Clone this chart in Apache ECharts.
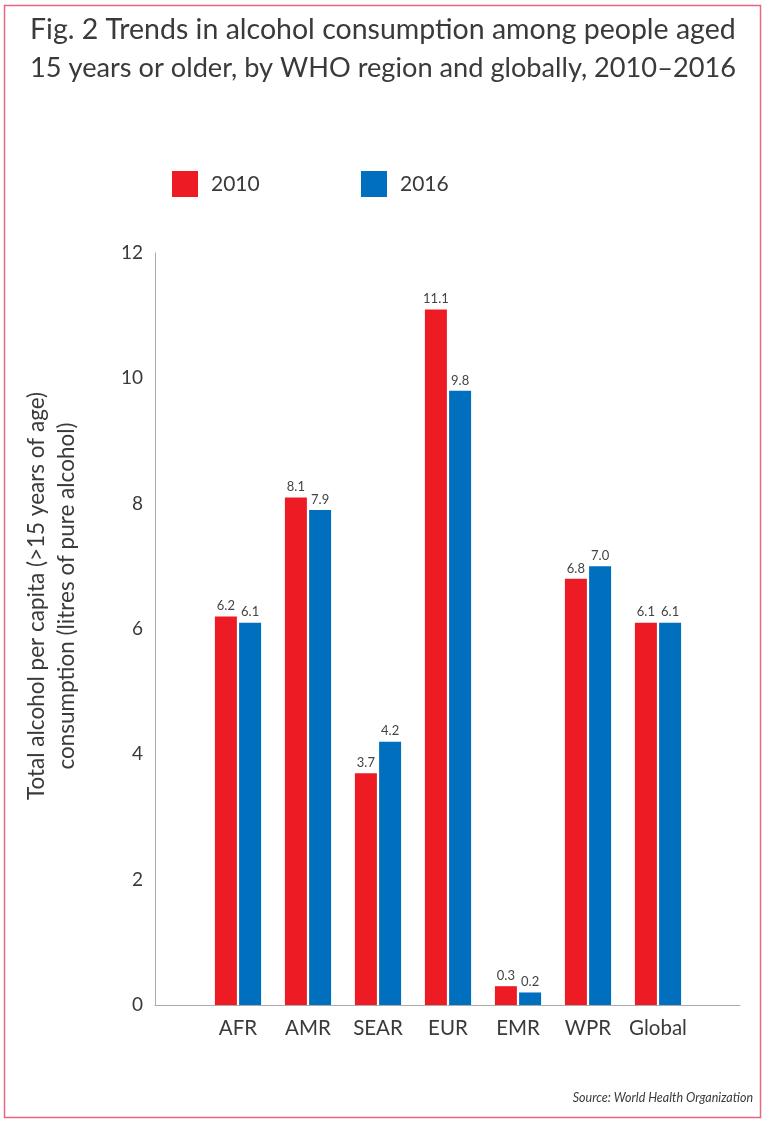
<!DOCTYPE html>
<html>
<head>
<meta charset="utf-8">
<script src="https://cdn.jsdelivr.net/npm/echarts@6/dist/echarts.min.js"></script>
<style>html,body{margin:0;padding:0;background:#fff}#c{width:765px;height:1122px}</style>
</head>
<body>
<div id="c"></div>
<script>
const categories = ['AFR', 'AMR', 'SEAR', 'EUR', 'EMR', 'WPR', 'Global'];
const values2010 = [6.2, 8.1, 3.7, 11.1, 0.3, 6.8, 6.1];
const values2016 = [6.1, 7.9, 4.2, 9.8, 0.2, 7.0, 6.1];
const seriesNames = ['2010', '2016'];
const yMin = 0, yMax = 12, yInterval = 2;

const FONT = 'Lato';
const TXT = '#3a3a3a';
const chart = echarts.init(document.getElementById('c'), null, {renderer: 'canvas'});
const labelCfg = {
  show: true, position: 'top', distance: 4, fontFamily: FONT, fontSize: 13, color: '#444',
  formatter: p => p.value.toFixed(1)
};
chart.setOption({
  animation: false,
  backgroundColor: '#fff',
  title: {
    text: 'Fig. 2 Trends in alcohol consumption among people aged',
    subtext: '15 years or older, by WHO region and globally, 2010–2016',
    left: 25, top: 6, itemGap: 2,
    textStyle: {fontFamily: FONT, fontSize: 28.5, fontWeight: 'normal', color: TXT, lineHeight: 37},
    subtextStyle: {fontFamily: FONT, fontSize: 27.2, fontWeight: 'normal', color: TXT, lineHeight: 36}
  },
  legend: [
    {data: [seriesNames[0]], left: 167, top: 166, itemWidth: 26, itemHeight: 26, itemGap: 0,
     textStyle: {fontFamily: FONT, fontSize: 21, color: TXT, padding: [0, 0, 0, 8]}, icon: 'rect'},
    {data: [seriesNames[1]], left: 356, top: 166, itemWidth: 26, itemHeight: 26, itemGap: 0,
     textStyle: {fontFamily: FONT, fontSize: 21, color: TXT, padding: [0, 0, 0, 8]}, icon: 'rect'}
  ],
  grid: [
    {left: 155, right: 25, top: 253, bottom: 117},
    {left: 203, width: 490, top: 253, bottom: 117}
  ],
  xAxis: [
    {type: 'value', gridIndex: 0, min: 0, max: 1, axisLine: {show: true, onZero: false, lineStyle: {color: '#aaaaaa', width: 1}},
     axisTick: {show: false}, axisLabel: {show: false}, splitLine: {show: false}},
    {type: 'category', gridIndex: 1, data: categories, axisLine: {show: false}, axisTick: {show: false},
     axisLabel: {interval: 0, fontFamily: FONT, fontSize: 20.5, color: TXT, margin: 13}}
  ],
  yAxis: [
    {type: 'value', gridIndex: 0, min: yMin, max: yMax, interval: yInterval,
     axisLine: {show: true, lineStyle: {color: '#aaaaaa', width: 1}}, axisTick: {show: false},
     splitLine: {show: false}, axisLabel: {fontFamily: FONT, fontSize: 19, color: TXT, margin: 12}},
    {type: 'value', gridIndex: 1, min: yMin, max: yMax, interval: yInterval, show: false, splitLine: {show: false}}
  ],
  series: [
    {name: seriesNames[0], type: 'bar', xAxisIndex: 1, yAxisIndex: 1, data: values2010, barWidth: 22, barGap: '10%',
     itemStyle: {color: '#ED1C24'}, label: labelCfg},
    {name: seriesNames[1], type: 'bar', xAxisIndex: 1, yAxisIndex: 1, data: values2016, barWidth: 22, barGap: '10%',
     itemStyle: {color: '#0070BE'}, label: labelCfg}
  ],
  graphic: [
    {type: 'rect', shape: {x: 4.5, y: 5.5, width: 756, height: 1112}, style: {fill: 'none', stroke: '#e9677e', lineWidth: 1.5}, silent: true},
    {type: 'text', x: 52, y: 596, rotation: Math.PI / 2,
     style: {text: 'Total alcohol per capita (>15 years of age)\nconsumption (litres of pure alcohol)',
       fontFamily: FONT, fontSize: 22.5, fill: TXT, align: 'center', verticalAlign: 'middle', lineHeight: 30}},
    {type: 'text', right: 12, top: 1091,
     style: {text: 'Source: World Health Organization', fontFamily: FONT, fontSize: 12.5, fontStyle: 'italic', fill: TXT}}
  ]
});
</script>
</body>
</html>
